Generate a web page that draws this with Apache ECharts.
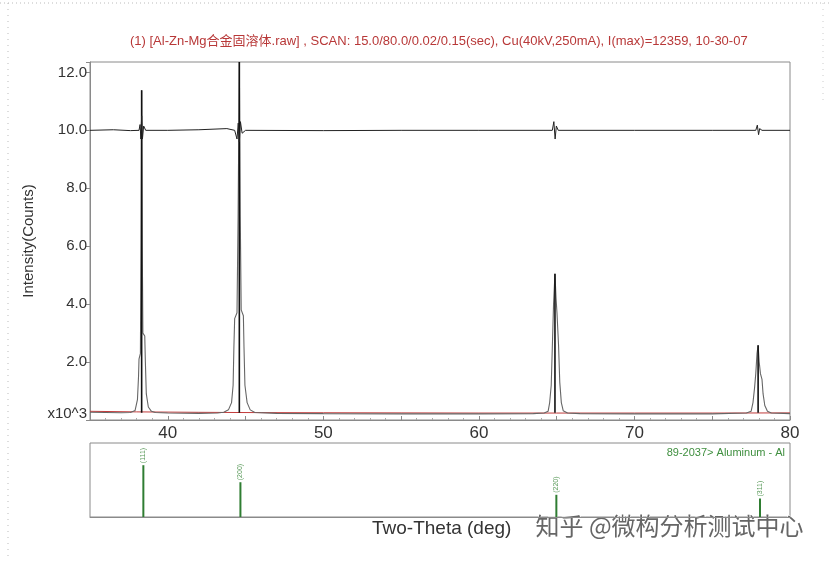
<!DOCTYPE html>
<html>
<head>
<meta charset="utf-8">
<script src="https://cdn.jsdelivr.net/npm/echarts@6/dist/echarts.min.js"></script>
<style>
html,body{margin:0;padding:0;background:#fff;}
#chart{width:831px;height:561px;}
</style>
</head>
<body>
<div id="chart"></div>
<script>
// ---- data ----
const titleText = '(1) [Al-Zn-Mg合金固溶体.raw] , SCAN: 15.0/80.0/0.02/0.15(sec), Cu(40kV,250mA), I(max)=12359, 10-30-07';
const xTicks = [40, 50, 60, 70, 80];
const yTicks = [2000, 4000, 6000, 8000, 10000, 12000];

// observed pattern (two-theta, counts)
const observed = [
  [35.0, 270],[36, 260],[37, 250],[37.6, 260],[37.9, 330],[38.05, 700],[38.12, 1500],[38.15, 2100],[38.24, 2300],
  [38.28, 6000],[38.32, 11380],[38.36, 6000],[38.4, 3000],[38.52, 2900],[38.56, 2000],[38.62, 900],[38.75, 450],
  [38.95, 300],[39.2, 260],[40, 240],[42, 230],[43.2, 240],[43.6, 270],[43.9, 350],[44.1, 600],[44.2, 1200],
  [44.25, 2500],[44.3, 3500],[44.45, 3700],[44.52, 7000],[44.6, 12359],[44.66, 7000],[44.72, 3800],[44.86, 3600],
  [44.9, 2500],[44.96, 1200],[45.1, 600],[45.3, 350],[45.6, 260],[47, 230],[50, 220],[55, 210],[60, 210],
  [63.5, 220],[64.2, 240],[64.45, 300],[64.55, 600],[64.65, 1200],[64.72, 2500],[64.8, 4000],[64.89, 5050],
  [64.96, 4200],[65.02, 3700],[65.12, 2600],[65.2, 1300],[65.3, 600],[65.42, 320],[65.7, 240],[66.5, 220],
  [70, 210],[75, 210],[77.2, 240],[77.5, 300],[77.62, 600],[77.72, 1100],[77.8, 1600],[77.88, 2300],[77.95, 2580],
  [78.02, 2000],[78.1, 1600],[78.2, 1400],[78.27, 900],[78.38, 500],[78.55, 300],[78.8, 240],[80, 220]
];
// black Kα1 centre lines of the strong reflections
const peakCenters = [38.32, 44.6, 64.89, 77.95];
const peakTops = [11380, 12359, 5050, 2580];

// background (red)
const background = [
  [35.0, 300],[38, 280],[42, 265],[46, 255],[50, 250],[55, 245],[60, 240],[65, 240],[70, 240],[75, 240],[80, 245]
];

// difference curve, offset to 10 000
const difference = [
  [35.0, 10000],[36.5, 10020],[37.6, 9990],[38.15, 10000],[38.22, 10200],[38.27, 9700],[38.32, 10500],[38.37, 9700],
  [38.45, 10150],[38.58, 10000],[40, 10000],[42, 10020],[43.8, 10060],[44.3, 10000],[44.45, 9700],[44.53, 10250],
  [44.6, 9600],[44.67, 10300],[44.78, 9900],[45.0, 10000],[50, 9990],[55, 10000],[60, 10000],[64.72, 10000],
  [64.82, 10300],[64.9, 9700],[64.98, 10150],[65.1, 10000],[70, 10000],[75, 10000],[77.8, 10000],[77.9, 10180],
  [77.98, 9850],[78.05, 10060],[78.2, 10000],[80, 10000]
];

// reference card 89-2037 Aluminum - Al
const stickPos = [38.43, 44.67, 64.98, 78.07];
const stickHeight = [70, 47, 30, 25];
const stickHkl = ['(111)', '(200)', '(220)', '(311)'];

// ---- chart ----
const chart = echarts.init(document.getElementById('chart'), null, {renderer: 'canvas'});

const option = {
  animation: false,
  backgroundColor: '#fff',
  grid: [
    {left: 90, right: 41, top: 62, height: 358, show: true, borderColor: '#8a8a8a', borderWidth: 1},
    {left: 90, right: 41, top: 443, height: 74, show: true, borderColor: '#8a8a8a', borderWidth: 1}
  ],
  xAxis: [
    {
      type: 'value', gridIndex: 0, min: 35, max: 80, interval: 5,
      axisLine: {lineStyle: {color: '#8a8a8a'}},
      axisTick: {inside: true, length: 4, lineStyle: {color: '#8a8a8a'}},
      minorTick: {show: true, splitNumber: 5, length: 2, lineStyle: {color: '#aaa'}},
      splitLine: {show: false},
      axisLabel: {
        color: '#333', fontSize: 17, fontFamily: 'Liberation Sans, Arial', margin: 5,
        formatter: v => (xTicks.indexOf(v) >= 0 ? String(v) : '')
      }
    },
    {
      type: 'value', gridIndex: 1, min: 35, max: 80,
      axisLine: {lineStyle: {color: '#8a8a8a'}},
      axisTick: {show: false}, axisLabel: {show: false}, splitLine: {show: false}
    }
  ],
  yAxis: [
    {
      type: 'value', gridIndex: 0, min: 0, max: 12359, interval: 2000,
      name: 'Intensity(Counts)', nameLocation: 'middle', nameGap: 54, nameRotate: 90,
      nameTextStyle: {color: '#333', fontSize: 15, fontFamily: 'Liberation Sans, Arial'},
      axisLine: {show: true, lineStyle: {color: '#8a8a8a'}},
      axisTick: {show: true, length: 4, lineStyle: {color: '#8a8a8a'}},
      splitLine: {show: false},
      axisLabel: {
        color: '#333', fontSize: 15, fontFamily: 'Liberation Sans, Arial', margin: 3,
        formatter: v => (v === 0 ? '{b|x10^3}' : (yTicks.indexOf(v) >= 0 ? (v / 1000).toFixed(1) : '')),
        rich: {b: {fontSize: 15, color: '#333', fontFamily: 'Liberation Sans, Arial', padding: [0, 0, 12, 0]}}
      }
    },
    {
      type: 'value', gridIndex: 1, min: 0, max: 100,
      axisLine: {show: false}, axisTick: {show: false}, axisLabel: {show: false}, splitLine: {show: false}
    }
  ],
  series: [
    {
      type: 'line', xAxisIndex: 0, yAxisIndex: 0, data: background, showSymbol: false,
      lineStyle: {color: '#c23b3b', width: 1}, z: 2
    },
    {
      type: 'line', xAxisIndex: 0, yAxisIndex: 0, data: observed, showSymbol: false,
      lineStyle: {color: '#666', width: 1.1}, z: 3
    },
    {
      type: 'custom', xAxisIndex: 0, yAxisIndex: 0,
      data: peakCenters.map((c, i) => [c, peakTops[i]]),
      renderItem: (params, api) => {
        const top = api.coord([api.value(0), api.value(1)]);
        const bot = api.coord([api.value(0), 250]);
        return {type: 'line', shape: {x1: bot[0], y1: bot[1], x2: top[0], y2: top[1]},
                style: {stroke: '#111', lineWidth: 1.6}};
      }, z: 4
    },
    {
      type: 'line', xAxisIndex: 0, yAxisIndex: 0, data: difference, showSymbol: false,
      lineStyle: {color: '#222', width: 1}, z: 5
    },
    {
      type: 'custom', xAxisIndex: 1, yAxisIndex: 1,
      data: stickPos.map((p, i) => [p, stickHeight[i], i]),
      renderItem: (params, api) => {
        const top = api.coord([api.value(0), api.value(1)]);
        const bot = api.coord([api.value(0), 0]);
        return {
          type: 'group',
          children: [
            {type: 'line', shape: {x1: bot[0], y1: bot[1], x2: top[0], y2: top[1]},
             style: {stroke: '#2f7d32', lineWidth: 2}},
            {type: 'text', x: top[0], y: top[1] - 2, rotation: Math.PI / 2,
             style: {text: stickHkl[api.value(2)], fill: '#5a9a5a', fontSize: 7,
                     fontFamily: 'Liberation Sans, Arial', align: 'left', verticalAlign: 'middle'}}
          ]
        };
      }
    }
  ],
  graphic: [
    {type: 'text', left: 130, top: 35,
     style: {text: titleText, fill: '#b83838', fontSize: 13, fontFamily: 'Liberation Sans, Arial, Noto Sans CJK SC'}},
    {type: 'text', right: 46, top: 447,
     style: {text: '89-2037> Aluminum - Al', fill: '#3f8f3f', fontSize: 11, fontFamily: 'Liberation Sans, Arial'}},
    {type: 'text', left: 372, top: 519,
     style: {text: 'Two-Theta (deg)', fill: '#333', fontSize: 19, fontFamily: 'Liberation Sans, Arial'}},
    {type: 'text', left: 535, top: 513,
     style: {text: '知乎 @微构分析测试中心', fill: '#666', fontSize: 24, fontFamily: 'Noto Sans CJK SC',
             stroke: '#fff', lineWidth: 1}},
    {type: 'line', shape: {x1: 0, y1: 3, x2: 831, y2: 3}, style: {stroke: '#bbb', lineWidth: 1, lineDash: [1, 3]}},
    {type: 'line', shape: {x1: 8, y1: 3, x2: 8, y2: 561}, style: {stroke: '#bbb', lineWidth: 1, lineDash: [1, 5]}},
    {type: 'line', shape: {x1: 823, y1: 3, x2: 823, y2: 100}, style: {stroke: '#ccc', lineWidth: 1, lineDash: [1, 5]}}
  ]
};
chart.setOption(option);
</script>
</body>
</html>
